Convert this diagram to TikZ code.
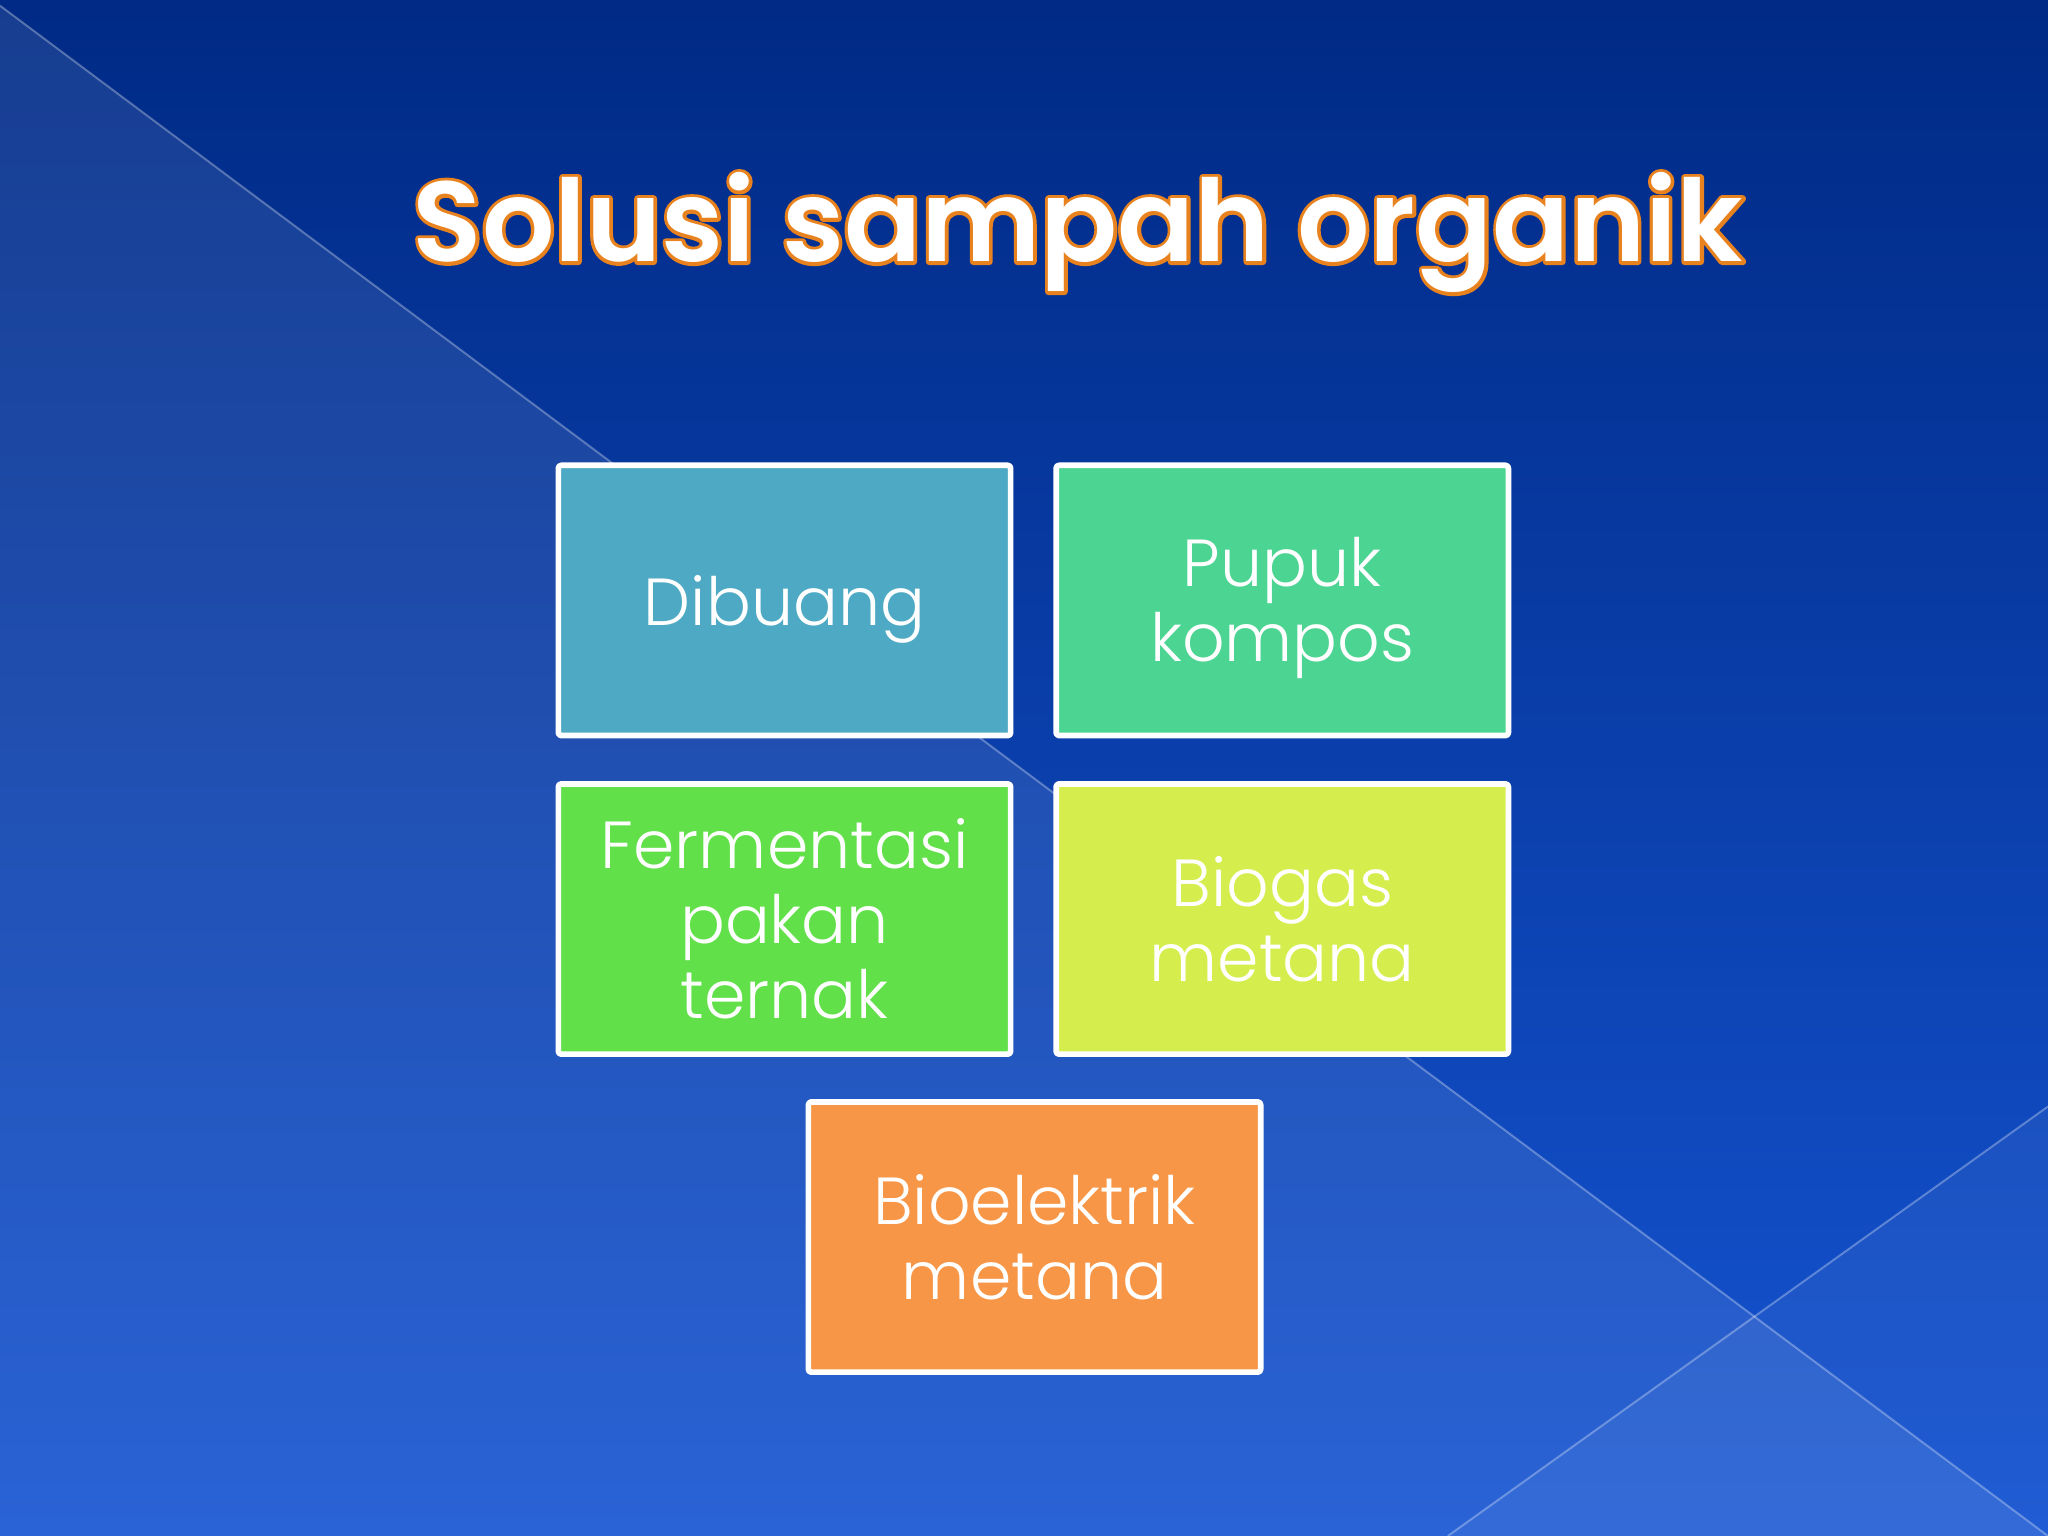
\documentclass[tikz,border=0pt]{standalone}
\usepackage{fontspec}
\setmainfont{Poppins}
\IfFontExistsTF{Poppins Light}{\newfontfamily\isifont{Poppins Light}}{\newfontfamily\isifont{Poppins}}
\IfFontExistsTF{Poppins SemiBold}
  {\newfontfamily\judulfont{Poppins SemiBold}\newfontfamily\judulgarisfont{Poppins SemiBold}[FakeBold=6]}
  {\newfontfamily\judulfont{Poppins Bold}\newfontfamily\judulgarisfont{Poppins Bold}[FakeBold=6]}
\usetikzlibrary{positioning}
\usepackage{xcolor}
\definecolor{latatas}{HTML}{002A85}
\definecolor{labawah}{HTML}{1554D2}
\definecolor{judulgaris}{HTML}{E8821E}
\definecolor{warnadibuang}{HTML}{4EAAC4}
\definecolor{warnapupuk}{HTML}{4CD492}
\definecolor{warnafermentasi}{HTML}{62E04A}
\definecolor{warnabiogas}{HTML}{D5EE4E}
\definecolor{warnabioelektrik}{HTML}{F79646}
\newcommand{\judulteks}[1]{\rlap{\judulgarisfont\color{judulgaris}#1}{\judulfont\color{white}#1}}

\begin{document}
\begin{tikzpicture}[
                line join=round,
                kotak/.style={shape=rectangle, draw=white, line width=2pt, rounded corners=1pt, minimum width=159pt, minimum height=95pt, text=white, align=center, font=\isifont\fontsize{23.4}{26.4}\selectfont},
                garis/.style={white, opacity=0.3, line width=0.7pt}
                ]
                %% Background
                \useasboundingbox (0pt, 0pt) rectangle (720pt, 540pt);
                \shade[top color=latatas, bottom color=labawah] (0pt, 0pt) rectangle (720pt, 540pt);
                \fill[white, opacity=0.09] (0pt, 538pt) -- (720pt, 0pt) -- (0pt, 0pt) -- cycle;
                \fill[white, opacity=0.05] (720pt, 151pt) -- (720pt, 0pt) -- (509pt, 0pt) -- cycle;
                \draw[garis] (0pt, 538pt) -- (720pt, 0pt);
                \draw[garis] (720pt, 151pt) -- (509pt, 0pt);

                %% Title
                \node[anchor=base, font=\fontsize{40}{48}\selectfont] (judul) at (379pt, 448pt) {\judulteks{Solusi sampah organik}};

                %% Boxes
                \node[kotak, fill=warnadibuang] (dibuang) at (275.8pt, 328.9pt) {\raisebox{-3pt}[\height][\depth]{Dibuang}};
                \node[kotak, fill=warnapupuk, right=14pt of dibuang] (pupuk) {\raisebox{-2.5pt}[\height][\depth]{Pupuk}\\\raisebox{-2.5pt}[\height][\depth]{kompos}};
                \node[kotak, fill=warnafermentasi, below=15pt of dibuang] (fermentasi) {Fermentasi\\pakan\\ternak};
                \node[kotak, fill=warnabiogas, below=15pt of pupuk] (biogas) {Biogas\\metana};
                \node[kotak, fill=warnabioelektrik] (bioelektrik) at (363.7pt, 105.1pt) {Bioelektrik\\metana};
\end{tikzpicture}
\end{document}
